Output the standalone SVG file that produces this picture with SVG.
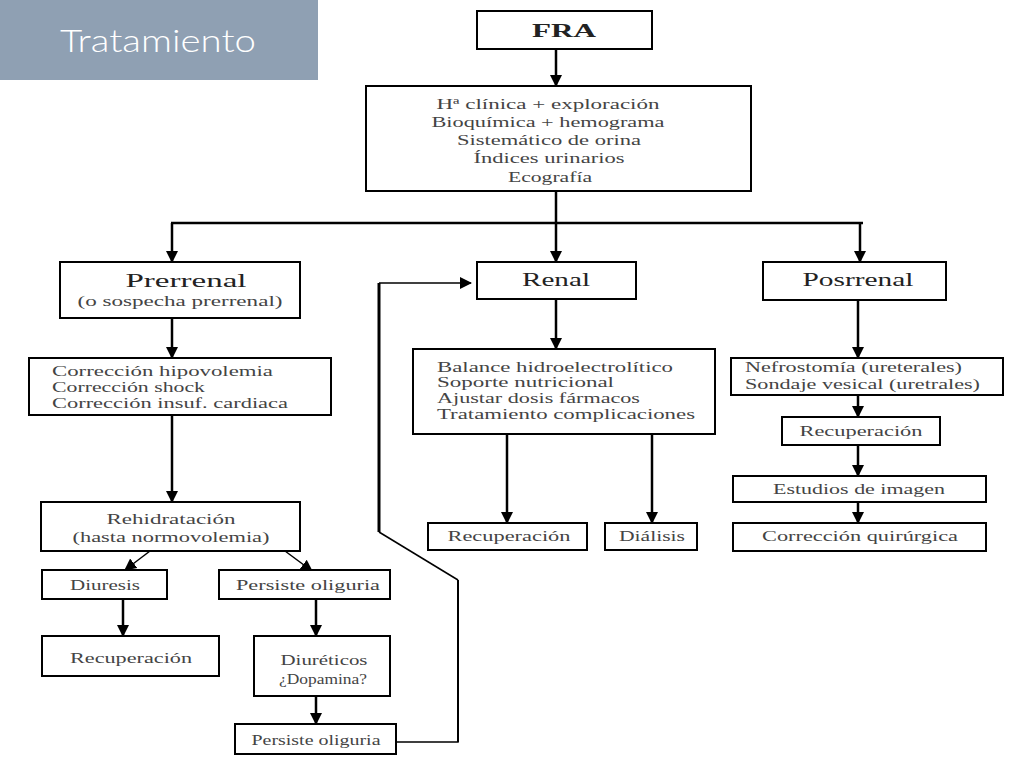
<svg xmlns="http://www.w3.org/2000/svg" width="1024" height="768" viewBox="0 0 1024 768">
<defs>
<marker id="ah" markerUnits="userSpaceOnUse" markerWidth="12" markerHeight="16" viewBox="0 0 12 16" refX="11" refY="8" orient="auto">
<path d="M0,2 L12,8 L0,14 z" fill="#000"/>
</marker>
<style>
.box{fill:#fff;stroke:#000;stroke-width:2}
.t{font-family:"Liberation Serif","Times New Roman",serif;font-size:14px;fill:#444}
.h{font-family:"Liberation Serif","Times New Roman",serif;font-size:18px;fill:#222}
.c{text-anchor:middle}
.ln{fill:none;stroke:#000;stroke-width:2.5}
.arr{fill:none;stroke:#000;stroke-width:2.5;marker-end:url(#ah)}
.thin{fill:none;stroke:#000;stroke-width:1.5}
</style>
</defs>
<rect width="1024" height="768" fill="#fff"/>
<g id="title">
<rect x="0" y="0" width="318" height="80" fill="#8fa0b3"/>
<text x="60" y="52" font-family="Lato,'Open Sans',sans-serif" font-weight="300" font-size="32" fill="#fff" textLength="196" lengthAdjust="spacingAndGlyphs">Tratamiento</text>
</g>
<g id="connectors">
<line class="arr" x1="556" y1="49" x2="556" y2="86"/>
<line class="ln" x1="556" y1="191" x2="556" y2="223"/>
<line class="ln" x1="171" y1="223" x2="863" y2="223"/>
<line class="arr" x1="172" y1="223" x2="172" y2="262"/>
<line class="arr" x1="556" y1="223" x2="556" y2="262"/>
<line class="arr" x1="860" y1="223" x2="860" y2="262"/>
<line class="arr" x1="172" y1="318" x2="172" y2="358"/>
<line class="arr" x1="172" y1="415" x2="172" y2="502"/>
<line class="thin" x1="150" y1="551" x2="125" y2="570" marker-end="url(#ah)"/>
<line class="thin" x1="285" y1="551" x2="312" y2="571" marker-end="url(#ah)"/>
<line class="arr" x1="123" y1="599" x2="123" y2="636"/>
<line class="arr" x1="316" y1="599" x2="316" y2="636"/>
<line class="arr" x1="316" y1="696" x2="316" y2="724"/>
<polyline class="thin" points="396,742 458,742 458,580"/>
<line x1="458" y1="742" x2="458" y2="580" stroke="#000" stroke-width="2"/>
<line class="thin" x1="458" y1="580" x2="379" y2="532"/>
<line x1="379" y1="532" x2="379" y2="283" stroke="#000" stroke-width="3"/>
<line class="thin" x1="379" y1="283" x2="471" y2="283" marker-end="url(#ah)"/>
<line class="arr" x1="556" y1="299" x2="556" y2="349"/>
<line class="arr" x1="507" y1="434" x2="507" y2="523"/>
<line class="arr" x1="652" y1="434" x2="652" y2="523"/>
<line class="arr" x1="858" y1="300" x2="858" y2="358"/>
<line class="arr" x1="858" y1="395" x2="858" y2="417"/>
<line class="arr" x1="858" y1="445" x2="858" y2="476"/>
<line class="arr" x1="858" y1="502" x2="858" y2="523"/>
</g>
<g id="fra">
<rect class="box" x="477" y="11" width="175" height="38"/>
<text class="h c" x="564" y="37" font-weight="bold" font-size="17" textLength="64" lengthAdjust="spacingAndGlyphs">FRA</text>
</g>
<g id="diagnostico">
<rect class="box" x="366" y="86" width="385" height="105"/>
<text class="t c" x="548" y="109" textLength="223" lengthAdjust="spacingAndGlyphs">Hª clínica + exploración</text>
<text class="t c" x="548" y="127" textLength="233" lengthAdjust="spacingAndGlyphs">Bioquímica + hemograma</text>
<text class="t c" x="549" y="145" textLength="184" lengthAdjust="spacingAndGlyphs">Sistemático de orina</text>
<text class="t c" x="549" y="163" textLength="151" lengthAdjust="spacingAndGlyphs">Índices urinarios</text>
<text class="t c" x="550" y="182" textLength="84" lengthAdjust="spacingAndGlyphs">Ecografía</text>
</g>
<g id="prerrenal">
<rect class="box" x="60" y="262" width="240" height="56"/>
<text class="h c" x="186" y="287" textLength="121" lengthAdjust="spacingAndGlyphs">Prerrenal</text>
<text class="t c" x="180" y="306" textLength="205" lengthAdjust="spacingAndGlyphs">(o sospecha prerrenal)</text>
</g>
<g id="renal">
<rect class="box" x="477" y="262" width="159" height="37"/>
<text class="h c" x="556" y="286" textLength="68" lengthAdjust="spacingAndGlyphs">Renal</text>
</g>
<g id="posrrenal">
<rect class="box" x="763" y="262" width="183" height="38"/>
<text class="h c" x="858" y="286" textLength="111" lengthAdjust="spacingAndGlyphs">Posrrenal</text>
</g>
<g id="correccion">
<rect class="box" x="29" y="358" width="302" height="57"/>
<text class="t" x="52" y="376" textLength="221" lengthAdjust="spacingAndGlyphs">Corrección hipovolemia</text>
<text class="t" x="52" y="392" textLength="153" lengthAdjust="spacingAndGlyphs">Corrección shock</text>
<text class="t" x="52" y="408" textLength="236" lengthAdjust="spacingAndGlyphs">Corrección insuf. cardiaca</text>
</g>
<g id="rehidratacion">
<rect class="box" x="41" y="502" width="259" height="49"/>
<text class="t c" x="171" y="524" textLength="129" lengthAdjust="spacingAndGlyphs">Rehidratación</text>
<text class="t c" x="171" y="542" textLength="197" lengthAdjust="spacingAndGlyphs">(hasta normovolemia)</text>
</g>
<g id="diuresis">
<rect class="box" x="42" y="570" width="125" height="29"/>
<text class="t c" x="105" y="590" textLength="70" lengthAdjust="spacingAndGlyphs">Diuresis</text>
</g>
<g id="persiste1">
<rect class="box" x="219" y="570" width="171" height="29"/>
<text class="t c" x="308" y="590" textLength="144" lengthAdjust="spacingAndGlyphs">Persiste oliguria</text>
</g>
<g id="recuperacion1">
<rect class="box" x="42" y="636" width="177" height="40"/>
<text class="t c" x="131" y="663" textLength="122" lengthAdjust="spacingAndGlyphs">Recuperación</text>
</g>
<g id="diureticos">
<rect class="box" x="254" y="636" width="136" height="60"/>
<text class="t c" x="324" y="665" textLength="87" lengthAdjust="spacingAndGlyphs">Diuréticos</text>
<text class="t c" x="323" y="684" textLength="88" lengthAdjust="spacingAndGlyphs">¿Dopamina?</text>
</g>
<g id="persiste2">
<rect class="box" x="235" y="724" width="161" height="30"/>
<text class="t c" x="316" y="745" textLength="129" lengthAdjust="spacingAndGlyphs">Persiste oliguria</text>
</g>
<g id="renal-tto">
<rect class="box" x="413" y="349" width="302" height="85"/>
<text class="t" x="437" y="372" textLength="236" lengthAdjust="spacingAndGlyphs">Balance hidroelectrolítico</text>
<text class="t" x="437" y="387" textLength="177" lengthAdjust="spacingAndGlyphs">Soporte nutricional</text>
<text class="t" x="437" y="403" textLength="203" lengthAdjust="spacingAndGlyphs">Ajustar dosis fármacos</text>
<text class="t" x="437" y="419" textLength="258" lengthAdjust="spacingAndGlyphs">Tratamiento complicaciones</text>
</g>
<g id="recuperacion2">
<rect class="box" x="428" y="523" width="159" height="27"/>
<text class="t c" x="509" y="541" textLength="123" lengthAdjust="spacingAndGlyphs">Recuperación</text>
</g>
<g id="dialisis">
<rect class="box" x="605" y="523" width="92" height="27"/>
<text class="t c" x="652" y="541" textLength="66" lengthAdjust="spacingAndGlyphs">Diálisis</text>
</g>
<g id="nefrostomia">
<rect class="box" x="731" y="358" width="272" height="37"/>
<text class="t" x="745" y="372" textLength="217" lengthAdjust="spacingAndGlyphs">Nefrostomía (ureterales)</text>
<text class="t" x="745" y="389" textLength="235" lengthAdjust="spacingAndGlyphs">Sondaje vesical (uretrales)</text>
</g>
<g id="recuperacion3">
<rect class="box" x="782" y="417" width="158" height="28"/>
<text class="t c" x="861" y="436" textLength="123" lengthAdjust="spacingAndGlyphs">Recuperación</text>
</g>
<g id="estudios">
<rect class="box" x="733" y="476" width="253" height="26"/>
<text class="t c" x="859" y="494" textLength="172" lengthAdjust="spacingAndGlyphs">Estudios de imagen</text>
</g>
<g id="cirugia">
<rect class="box" x="733" y="523" width="253" height="28"/>
<text class="t c" x="860" y="541" textLength="196" lengthAdjust="spacingAndGlyphs">Corrección quirúrgica</text>
</g>
</svg>
